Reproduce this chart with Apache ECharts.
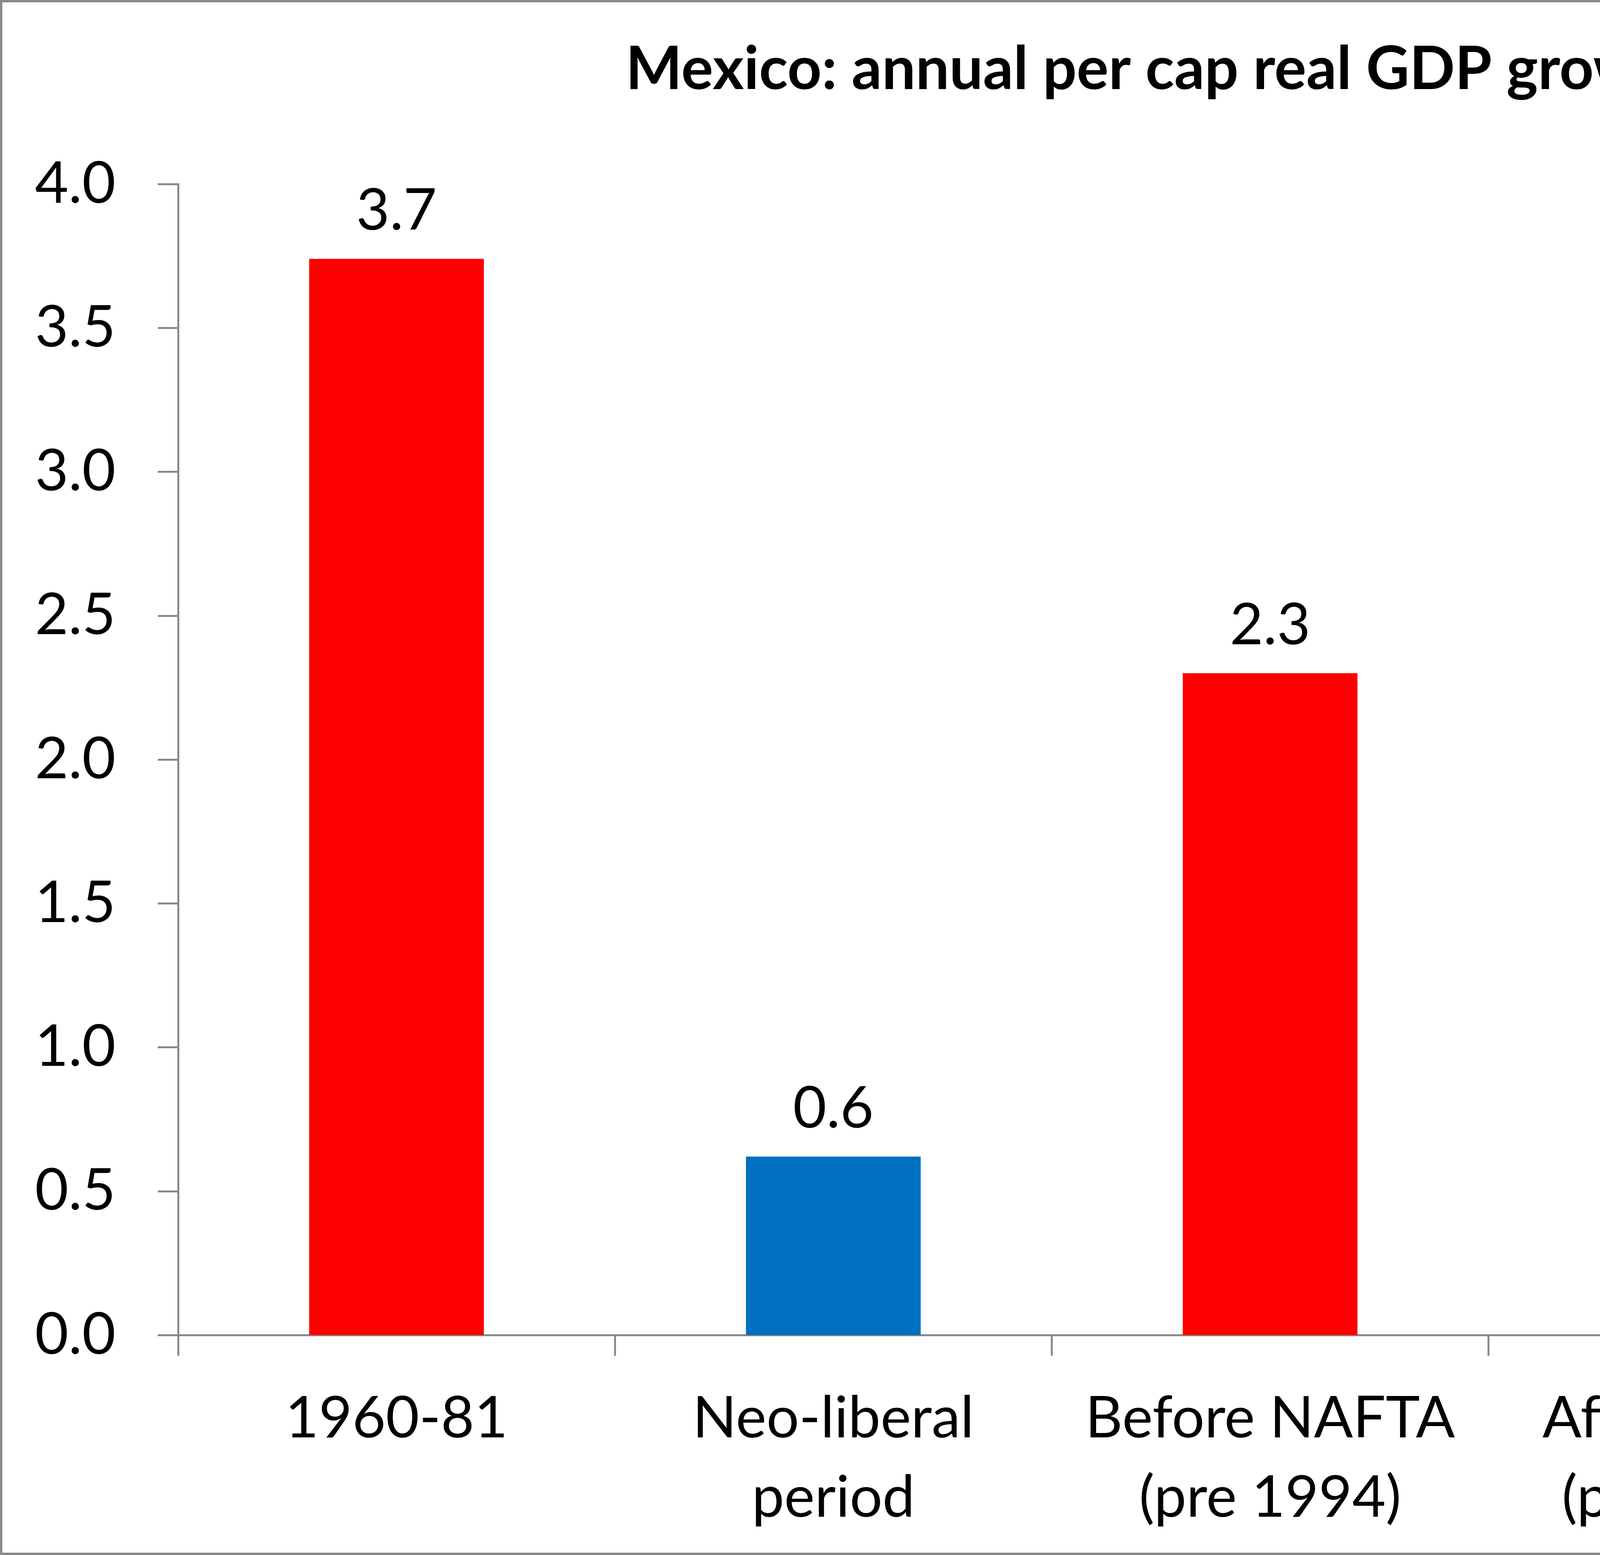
<!DOCTYPE html>
<html>
<head>
<meta charset="utf-8">
<script src="https://cdn.jsdelivr.net/npm/echarts@6/dist/echarts.min.js"></script>
<style>
html,body{margin:0;padding:0;background:#fff;}
#chart{width:6109px;height:3980px;}
</style>
</head>
<body>
<div id="chart"></div>
<script>
const titleText = "Mexico: annual per cap real GDP growth %";
const categories = ["1960-81", "Neo-liberal\nperiod", "Before NAFTA\n(pre 1994)", "After NAFTA\n(post 1994)", "After the end of\nthe GR (2009)"];
const values = [3.74, 0.62, 2.30, 1.064, 1.652];
const barColors = ["#FF0000", "#0070C0", "#FF0000", "#4F81BD", "#92D050"];
const yMin = 0, yMax = 4, yStep = 0.5;

const FONT = "Lato";
const chart = echarts.init(document.getElementById('chart'), null, {renderer: 'canvas'});
chart.setOption({
  backgroundColor: '#ffffff',
  animation: false,
  title: {
    text: titleText,
    left: 'center',
    top: 102,
    padding: 0,
    textStyle: {fontFamily: FONT, fontWeight: 'bold', fontSize: 153, color: '#000'}
  },
  graphic: [{
    type: 'rect',
    shape: {x: 3, y: 3, width: 6103, height: 3974},
    style: {fill: 'none', stroke: '#898989', lineWidth: 6},
    silent: true
  }],
  grid: {left: 456, right: 62, top: 471, bottom: 563, containLabel: false},
  xAxis: {
    type: 'category',
    data: categories,
    axisLine: {show: true, lineStyle: {color: '#898989', width: 5}},
    axisTick: {show: true, length: 53, lineStyle: {color: '#898989', width: 5}},
    axisLabel: {fontFamily: FONT, fontSize: 148, color: '#000', margin: 113, lineHeight: 203, interval: 0}
  },
  yAxis: {
    type: 'value',
    min: yMin, max: yMax, interval: yStep,
    splitLine: {show: false},
    axisLine: {show: true, lineStyle: {color: '#898989', width: 5}},
    axisTick: {show: true, length: 52, lineStyle: {color: '#898989', width: 5}},
    axisLabel: {fontFamily: FONT, fontSize: 148, color: '#000', margin: 160,
      formatter: v => v.toFixed(1)}
  },
  series: [{
    type: 'bar',
    barWidth: '40%',
    data: values.map((v, i) => ({value: v, itemStyle: {color: barColors[i]}})),
    label: {
      show: true, position: 'top', distance: 48,
      fontFamily: FONT, fontSize: 148, color: '#000',
      formatter: p => p.value.toFixed(1)
    }
  }]
});
</script>
</body>
</html>
